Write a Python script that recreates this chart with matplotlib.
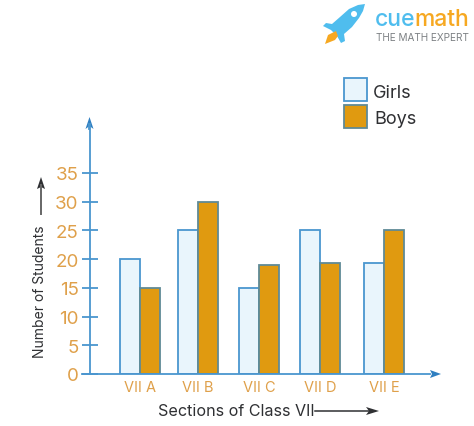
import matplotlib
matplotlib.use('Agg')
import matplotlib.pyplot as plt
from matplotlib.patches import Polygon, Circle, Rectangle

sections = ['VII A', 'VII B', 'VII C', 'VII D', 'VII E']
girls = [20, 25, 15, 25, 19.3]
boys = [15, 30, 19, 19.3, 25]
y_ticks = [0, 5, 10, 15, 20, 25, 30, 35]

W, H = 474, 427
BLUE = '#4a96cf'
ORANGE = '#e09a10'
LABEL_ORANGE = '#dfa04a'
PALE = '#e9f5fc'
DARK = '#2f3033'

plt.rcParams['font.family'] = ['Inter', 'DejaVu Sans']

fig = plt.figure(figsize=(W / 100, H / 100), dpi=100, facecolor='white')

# overlay in pixel coords for logo, legend and hand drawn arrows
bg = fig.add_axes([0, 0, 1, 1])
bg.set_xlim(0, W)
bg.set_ylim(H, 0)
bg.axis('off')

# plot area: x units are pixels, 0 students sits at y=375 and 35 at y=174
ax = fig.add_axes([89.5 / W, (H - 375) / H, (430 - 89.5) / W, (375 - 125) / H])
ax.patch.set_alpha(0)
ax.set_xlim(89.5, 430)
ax.set_ylim(0, 250 / 5.743)
centers = [139.7, 197.7, 259, 320.3, 384]
bar_w = 20
for c, g, b in zip(centers, girls, boys):
    ax.bar(c - bar_w / 2, g, bar_w, color=PALE, edgecolor=BLUE, linewidth=1.3)
    ax.bar(c + bar_w / 2, b, bar_w, color=ORANGE, edgecolor='#5f8a96', linewidth=1.3)

for s in ['top', 'right']:
    ax.spines[s].set_visible(False)
for s in ['left', 'bottom']:
    ax.spines[s].set_color(BLUE)
    ax.spines[s].set_linewidth(1.3)

ax.set_yticks(y_ticks)
ax.set_yticklabels([str(v) for v in y_ticks], fontsize=13.5, color=LABEL_ORANGE)
ax.tick_params(axis='y', direction='inout', length=11.5, width=1.3, color=BLUE, pad=2)
ax.set_xticks(centers)
ax.set_xticklabels(sections, fontsize=10.5, color=LABEL_ORANGE)
ax.tick_params(axis='x', length=0, pad=4.5)

# axis arrow heads and the stub left of the y axis
bg.plot([82, 90], [375, 375], color=BLUE, lw=1.3)
bg.add_patch(Polygon([[430, 371], [441, 375], [430, 379], [432, 375]], color='#2f7fc1', lw=0))
bg.add_patch(Polygon([[85.5, 130], [89.5, 118], [93.5, 130], [89.5, 127]], color='#2f7fc1', lw=0))
bg.plot([89.5, 89.5], [125, 130], color=BLUE, lw=1.3)

# axis titles
bg.text(40.5, 292, 'Number of Students', rotation=90, fontsize=10, color=DARK, ha='center', va='center')
bg.plot([41, 41], [215, 186], color='#666666', lw=1.4)
bg.add_patch(Polygon([[37, 190], [41, 178], [45, 190], [41, 188]], color=DARK, lw=0))
bg.text(158, 412, 'Sections of Class VII', fontsize=11.6, color=DARK, ha='left', va='center')
bg.plot([315, 372], [412, 412], color=DARK, lw=1.1)
bg.add_patch(Polygon([[366, 408], [379, 412], [366, 416], [369, 412]], color=DARK, lw=0))

# legend
bg.add_patch(Rectangle((344, 79), 23, 23, facecolor=PALE, edgecolor=BLUE, lw=1.3))
bg.add_patch(Rectangle((344, 106), 23, 23, facecolor=ORANGE, edgecolor='#5f8a96', lw=1.3))
bg.text(373, 94, 'Girls', fontsize=13, color=DARK, ha='left', va='center')
bg.text(374, 120, 'Boys', fontsize=13, color=DARK, ha='left', va='center')

# cuemath logo
LOGO_BLUE = '#4fbdee'
LOGO_ORANGE = '#f6a821'
bg.add_patch(Polygon([[365, 5], [358, 6], [349, 10], [340, 18], [332, 25], [326, 24], [323, 27], [331, 31],
                      [337, 37], [341, 44], [345, 42], [344, 35], [352, 28], [359, 19], [363, 12]],
                     color=LOGO_BLUE, lw=0))
bg.add_patch(Circle((354, 15), 3, color='white', lw=0))
bg.add_patch(Polygon([[325, 45], [328, 36], [336, 32], [338, 37], [335, 41]], color=LOGO_ORANGE, lw=0))
bg.text(374.5, 20, 'cue', fontsize=16.5, fontweight='medium', color=LOGO_BLUE, ha='left', va='center')
bg.text(414, 20, 'math', fontsize=16.5, fontweight='medium', color=LOGO_ORANGE, ha='left', va='center')
bg.text(376, 38, 'THE MATH EXPERT', fontsize=7.2, color='#7d8184', ha='left', va='center')

fig.savefig('out.png', dpi=100)
